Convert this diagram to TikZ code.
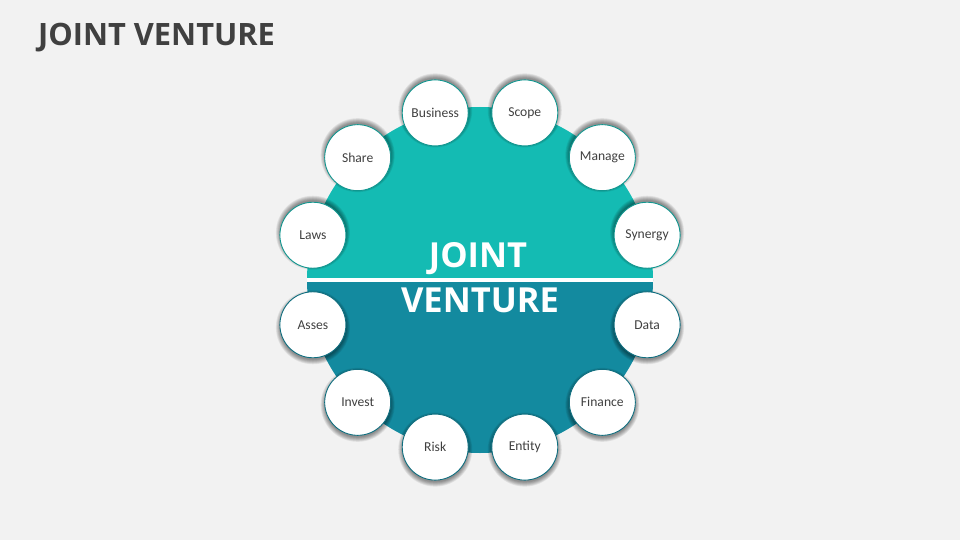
\documentclass[tikz,border=0pt]{standalone}
\usepackage{fontspec}
\setmainfont{Carlito}
\newfontfamily\headfont{Open Sans}
\definecolor{bgc}{HTML}{F2F2F2}
\definecolor{topc}{HTML}{14BBB3}
\definecolor{botc}{HTML}{138A9F}
\definecolor{txtc}{HTML}{404040}
\tikzset{
  item/.style={circle, minimum size=66pt, inner sep=0pt, fill=white, line width=0.9pt,
    font=\fontsize{13.6}{16}\selectfont, text=txtc},
  itemtop/.style={item, draw=topc!80!black},
  itembot/.style={item, draw=botc!80!black},
  shadowdisc/.style={fill=black, opacity=0.07},
  bigtext/.style={font=\headfont\bfseries\fontsize{34.5}{38}\selectfont, text=white, inner sep=0pt, anchor=base}
}
\begin{document}
\begin{tikzpicture}[x=1pt,y=-1pt]
\fill[bgc] (0,0) rectangle (960,540);
\useasboundingbox (0,0) rectangle (960,540);
\node[font=\headfont\bfseries\fontsize{30.8}{34}\selectfont, text=txtc, anchor=base west, inner sep=0pt] (title) at (38,46) {JOINT VENTURE};
\coordinate (c) at (480,280);
\begin{scope}
  \clip (c) circle[radius=173];
  \fill[topc] (300,100) rectangle (660,280);
  \fill[botc] (300,280) rectangle (660,460);
  \draw[white, line width=3.5pt] (300,280) -- (660,280);
\end{scope}
\node[bigtext] (t1) at (478,267) {JOINT};
\node[bigtext] (t2) at (480,312) {VENTURE};
% shadows
\foreach \a in {-105,-75,-135,-45,-165,-15}{
  \foreach \k in {0,...,6}{
    \fill[shadowdisc] ([shift={(\a:173)}]c) ++(0,-2.5) circle[radius=32.5+0.75*\k];
  }
}
\foreach \a in {105,75,135,45,165,15}{
  \foreach \k in {0,...,6}{
    \fill[shadowdisc] ([shift={(\a:173)}]c) ++(0,2.5) circle[radius=32.5+0.75*\k];
  }
}
% top items
\node[itemtop] (business) at ([shift={(-105:173)}]c) {Business};
\node[itemtop] (scope) at ([shift={(-75:173)}]c) {Scope};
\node[itemtop] (share) at ([shift={(-135:173)}]c) {Share};
\node[itemtop] (manage) at ([shift={(-45:173)}]c) {Manage};
\node[itemtop] (laws) at ([shift={(-165:173)}]c) {Laws};
\node[itemtop] (synergy) at ([shift={(-15:173)}]c) {Synergy};
% bottom items
\node[itembot] (asses) at ([shift={(165:173)}]c) {Asses};
\node[itembot] (data) at ([shift={(15:173)}]c) {Data};
\node[itembot] (invest) at ([shift={(135:173)}]c) {Invest};
\node[itembot] (finance) at ([shift={(45:173)}]c) {Finance};
\node[itembot] (risk) at ([shift={(105:173)}]c) {Risk};
\node[itembot] (entity) at ([shift={(75:173)}]c) {Entity};
\end{tikzpicture}
\end{document}
